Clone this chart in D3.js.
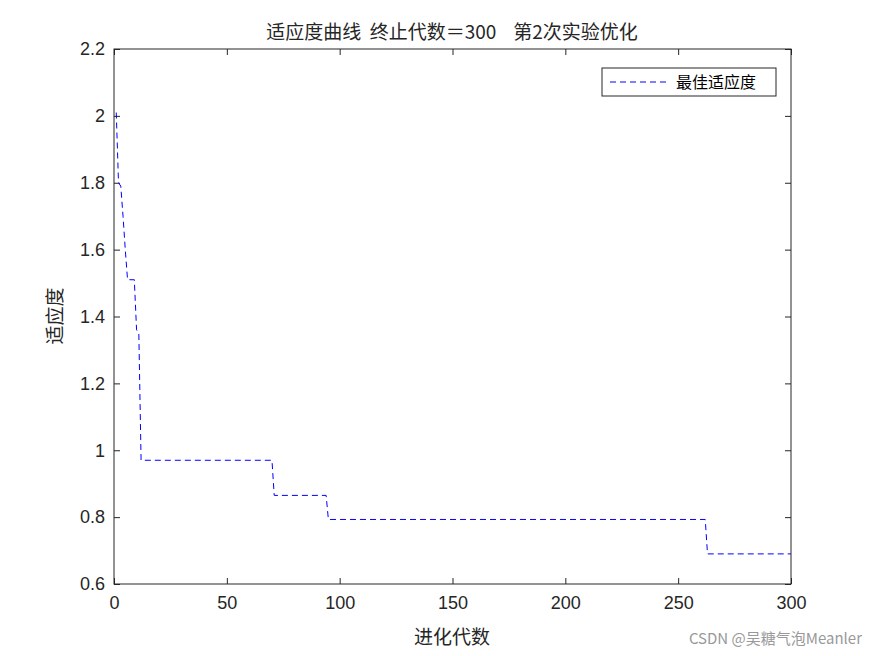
<!DOCTYPE html><html><head><meta charset="utf-8"><script src="https://d3js.org/d3.v7.min.js"></script>
<style>body{margin:0;background:#fff}text{white-space:pre}</style></head><body><svg id="c" width="875" height="656"></svg>
<script>
const gens=[1,2,3,4,5,6,9,10,11,12,70,71,94,95,262,263,300];
const fit=[2.01,1.80,1.79,1.70,1.60,1.51,1.51,1.36,1.35,0.97,0.97,0.865,0.865,0.793,0.793,0.69,0.69];
const xTicks=[0,50,100,150,200,250,300];
const yTicks=[0.6,0.8,1,1.2,1.4,1.6,1.8,2,2.2];
const svg=d3.select("#c");
const L=114,R=791,T=49,B=584;
const x=d3.scaleLinear().domain([0,300]).range([L,R]);
const y=d3.scaleLinear().domain([0.6,2.2]).range([B,T]);
const f="'Microsoft YaHei','Noto Sans CJK SC',sans-serif";
svg.append("rect").attr("x",L).attr("y",T).attr("width",R-L).attr("height",B-T).attr("fill","none").attr("stroke","#262626");
svg.append("g").attr("transform",`translate(0,${B})`).call(d3.axisBottom(x).tickValues(xTicks).tickSize(-6).tickPadding(12));
svg.append("g").attr("transform",`translate(${L},0)`).call(d3.axisLeft(y).tickValues(yTicks).tickSize(-6).tickPadding(9).tickFormat(d3.format("")));
svg.append("g").attr("transform",`translate(0,${T})`).call(d3.axisTop(x).tickValues(xTicks).tickSize(-6).tickFormat(""));
svg.append("g").attr("transform",`translate(${R},0)`).call(d3.axisRight(y).tickValues(yTicks).tickSize(-6).tickFormat(""));
svg.selectAll(".domain").remove();
svg.selectAll(".tick line").attr("stroke","#262626");
svg.selectAll(".tick text").attr("font-family","Arial,'Liberation Sans',sans-serif").attr("font-size",18).attr("fill","#262626");
const line=d3.line().x((d,i)=>x(gens[i])).y(d=>y(d));
svg.append("path").datum(fit).attr("d",line).attr("fill","none").attr("stroke","#0000ff").attr("stroke-width",1).attr("stroke-dasharray","6,4");
svg.append("text").attr("x",452).attr("y",39).attr("text-anchor","middle").attr("font-family",f).attr("font-size",19).attr("fill","#262626").text("适应度曲线  终止代数＝300    第2次实验优化");
svg.append("text").attr("x",452).attr("y",644).attr("text-anchor","middle").attr("font-family",f).attr("font-size",19).attr("fill","#262626").text("进化代数");
svg.append("text").attr("transform","translate(62,316) rotate(-90)").attr("text-anchor","middle").attr("font-family",f).attr("font-size",19).attr("fill","#262626").text("适应度");
svg.append("rect").attr("x",602).attr("y",68).attr("width",174).attr("height",28).attr("fill","#fff").attr("stroke","#262626");
svg.append("line").attr("x1",610).attr("x2",666).attr("y1",82).attr("y2",82).attr("stroke","#0000ff").attr("stroke-dasharray","6,4");
svg.append("text").attr("x",676).attr("y",88).attr("font-family",f).attr("font-size",16).attr("fill","#000").text("最佳适应度");
svg.append("text").attr("x",862).attr("y",644).attr("text-anchor","end").attr("font-family",f).attr("font-size",15).attr("fill","#999").text("CSDN @吴糖气泡Meanler");
</script></body></html>
